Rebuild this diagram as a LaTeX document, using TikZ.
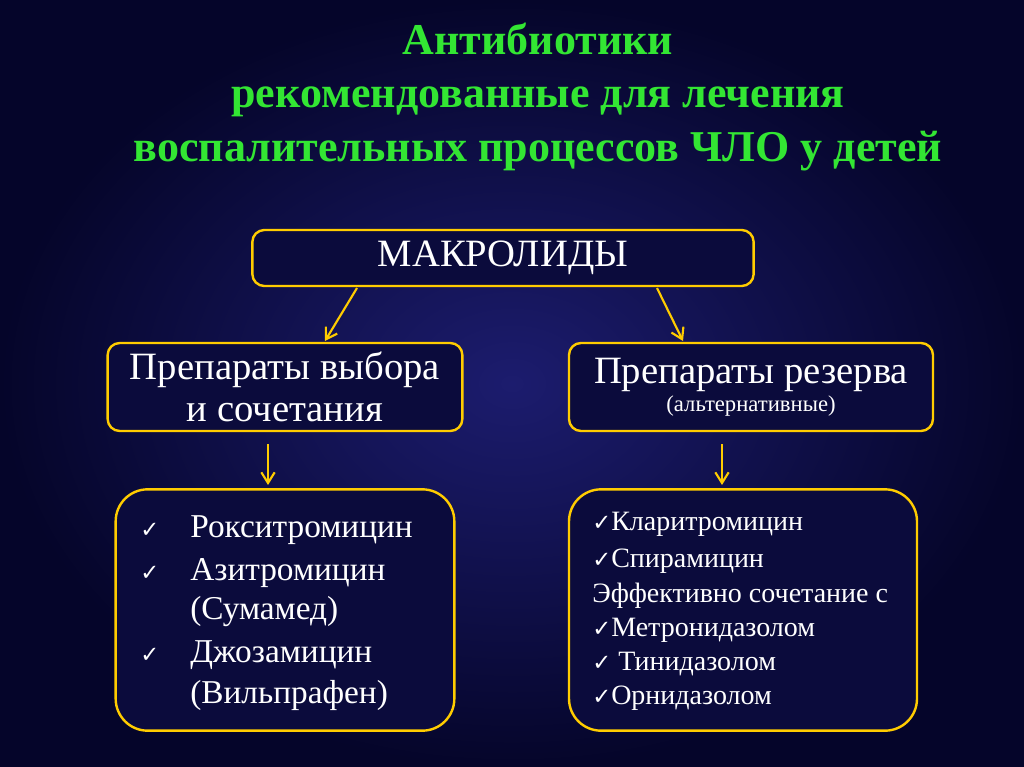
\documentclass[tikz,border=0pt]{standalone}
\usepackage{fontspec}
\setmainfont{Liberation Serif}
\newfontfamily\symf{DejaVu Sans}
\usetikzlibrary{arrows.meta}
\usetikzlibrary{positioning}
\definecolor{navy}{HTML}{1C1C6E}
\definecolor{deep}{HTML}{05052A}
\definecolor{boxfill}{HTML}{0B0B3C}
\definecolor{gold}{HTML}{FFCC00}
\definecolor{titlegreen}{HTML}{33E633}
\newcommand{\chk}{{\symf\fontsize{17}{17}\selectfont ✓}}
\begin{document}
\begin{tikzpicture}[
        x=0.75pt, y=-0.75pt,
        arrow/.style={line width=1.6pt, gold, -{Straight Barb[length=8pt,width=10pt]}},
        block/.style={draw=gold, line width=1.8pt, rounded corners=9pt, fill=boxfill, text=white, align=center},
        item/.style={text=white, anchor=west, inner sep=0pt},
    ]
    \useasboundingbox (0,0) rectangle (1024,767);
    \shade[inner color=navy, outer color=deep] (0,0) rectangle (1024,767);

    \node[text=titlegreen, font=\bfseries\fontsize{33}{40}\selectfont, align=center] (title) at (538,97)
        {Антибиотики\\рекомендованные для лечения\\воспалительных процессов ЧЛО у детей};

    \node[block, minimum width=376pt, minimum height=42pt, font=\fontsize{29}{32}\selectfont] (macro) at (503,258) {МАКРОЛИДЫ};
    \node[block, minimum width=266pt, minimum height=66pt, font=\fontsize{29}{31}\selectfont] (choice) at (285,387) {Препараты выбора\\и сочетания};
    \node[block, minimum width=273pt, minimum height=66pt] (reserve) at (751,387)
        {{\fontsize{29}{31}\selectfont Препараты резерва}\\[2pt]{\fontsize{17}{19}\selectfont (альтернативные)}};
    \node[block, rounded corners=24pt, minimum width=254pt, minimum height=181pt] (choicelist) at (285,610) {};
    \node[block, rounded corners=24pt, minimum width=261pt, minimum height=181pt] (reservelist) at (743,610) {};

    % left list
    \begin{scope}[font=\fontsize{25}{28}\selectfont]
        \node[item] (c1) at (140,530) {\chk};
        \node[item] (l1) at (190,530) {Рокситромицин};
        \node[item] (c2) at (140,573) {\chk};
        \node[item] (l2) at (190,573) {Азитромицин};
        \node[item] (l3) at (190,612) {(Сумамед)};
        \node[item] (c4) at (140,655) {\chk};
        \node[item] (l4) at (190,655) {Джозамицин};
        \node[item] (l5) at (190,695) {(Вильпрафен)};
    \end{scope}

    % right list
    \begin{scope}[font=\fontsize{21}{24}\selectfont]
        \node[item] (r1) at (592,524) {\chk Кларитромицин};
        \node[item] (r2) at (592,561) {\chk Спирамицин};
        \node[item] (r3) at (592,596) {Эффективно сочетание с};
        \node[item] (r4) at (592,630) {\chk Метронидазолом};
        \node[item] (r5) at (592,664) {\chk\ Тинидазолом};
        \node[item] (r6) at (592,698) {\chk Орнидазолом};
    \end{scope}

    \coordinate (macroL) at (357,288);
    \coordinate (macroR) at (657,288);
    \coordinate (choiceT) at (325,341);
    \coordinate (reserveT) at (683,341);
    \coordinate (choiceB) at (268,444);
    \coordinate (reserveB) at (722,444);
    \coordinate (choicelistT) at (268,485);
    \coordinate (reservelistT) at (722,485);

    \draw[arrow] (macroL) -- (choiceT);
    \draw[arrow] (macroR) -- (reserveT);
    \draw[arrow] (choiceB) -- (choicelistT);
    \draw[arrow] (reserveB) -- (reservelistT);
\end{tikzpicture}
\end{document}
